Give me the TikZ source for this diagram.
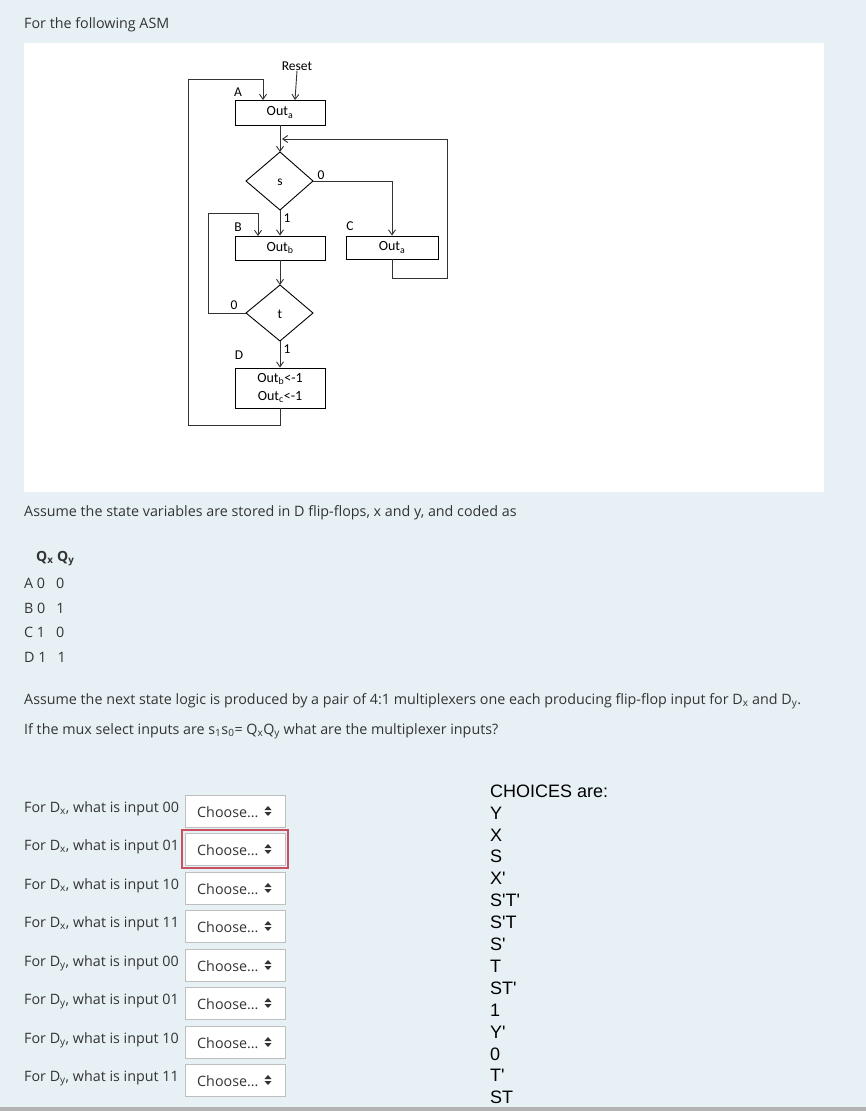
\documentclass[tikz,border=0pt]{standalone}
\usepackage{fontspec}
\setmainfont{Open Sans}
\newfontfamily\calfnt{Carlito}
\newfontfamily\arifnt{Liberation Sans}
\usetikzlibrary{arrows.meta}
\definecolor{bg}{HTML}{E7F1F5}
\definecolor{txt}{HTML}{333333}
\definecolor{redb}{HTML}{C9505E}
\begin{document}
\begin{tikzpicture}[x=1pt,y=-1pt,
  box/.style={draw,line width=0.9pt,minimum width=90pt,minimum height=25pt,inner sep=0pt,font=\calfnt\fontsize{14}{16}\selectfont},
  dia/.style={draw,line width=0.9pt},
  ln/.style={line width=0.9pt,draw=black!80},
  ar/.style={ln,-{Straight Barb[length=5pt,width=7pt]}},
  lab/.style={font=\calfnt\fontsize{13.5}{15}\selectfont,inner sep=0pt},
  body/.style={font=\fontsize{14.3}{17}\selectfont,text=txt,anchor=west,inner sep=0pt},
  sel/.style={draw=black!25,fill=white,minimum width=100pt,minimum height=32pt,inner sep=0pt,font=\fontsize{14}{17}\selectfont,text=txt},
  ch/.style={font=\arifnt\fontsize{18}{20}\selectfont,anchor=west,inner sep=0pt}]
\useasboundingbox (0,0) rectangle (866,1111);
\fill[bg] (0,0) rectangle (866,1111);
\fill[black!30] (0,1107) rectangle (866,1111);
\fill[white] (24,43) rectangle (824,492);
\node[body] (t1) at (24,25) {For the following ASM};
% ASM
\node[box] (A) at (280,112.5) {Out\textsubscript{a}};
\node[lab] (Rs) at (297,66) {Reset};
\node[lab] at (238,92) {A};
\coordinate (sT) at (280,152); \coordinate (sB) at (280,210);
\coordinate (sL) at (246,181); \coordinate (sR) at (313,181);
\draw[dia] (sT)--(sR)--(sB)--(sL)--cycle;
\node[lab] (s) at (280,182) {s};
\node[box,minimum height=24pt] (B) at (280,248) {Out\textsubscript{b}};
\node[lab] at (238,227) {B};
\node[box,minimum width=92pt,minimum height=23pt] (C) at (392,247.5) {Out\textsubscript{a}};
\node[lab] at (350,226) {C};
\coordinate (tT) at (280,285); \coordinate (tB) at (280,341);
\coordinate (tL) at (246,313); \coordinate (tR) at (313,313);
\draw[dia] (tT)--(tR)--(tB)--(tL)--cycle;
\node[lab] (t) at (280,314) {t};
\node[box,minimum height=40pt,align=center,font=\calfnt\fontsize{14}{18}\selectfont] (D) at (280,388) {Out\textsubscript{b}<-1\\Out\textsubscript{c}<-1};
\node[lab] at (239,355) {D};
\node[lab] at (321,175) {0};
\node[lab] at (287,218) {1};
\node[lab] at (234,305) {0};
\node[lab] at (287,349) {1};
\draw[ar] (Rs.south) -- (295,100);
\draw[ar] (D.south) -- (280,425) -- (188,425) -- (188,79) -- (263,79) -- (263,100);
\draw[ar] (A.south) -- (sT);
\draw[ar] (C.south) -- (392,278) -- (447,278) -- (447,139) -- (282,139);
\draw[ar] (sR) -- (392,181) -- (C.north);
\draw[ar] (sB) -- (B.north);
\draw[ar] (B.south) -- (tT);
\draw[ar] (tL) -- (208,313) -- (208,213) -- (258,213) -- (258,236);
\draw[ar] (tB) -- (D.north);
% text
\node[body] at (24,513) {Assume the state variables are stored in D flip-flops, x and y, and coded as};
\node[body,font=\bfseries\fontsize{14}{17}\selectfont] at (36,559) {Q\textsubscript{x} Q\textsubscript{y}};
\node[body] at (24,583) {A 0\hspace{11pt}0};
\node[body] at (24,608) {B 0\hspace{11pt}1};
\node[body] at (24,632) {C 1\hspace{11pt}0};
\node[body] at (24,657) {D 1\hspace{11pt}1};
\node[body] at (24,701) {Assume the next state logic is produced by a pair of 4:1 multiplexers one each producing flip-flop input for D\textsubscript{x} and D\textsubscript{y}.};
\node[body] at (24,731) {If the mux select inputs are s\textsubscript{1}s\textsubscript{0}= Q\textsubscript{x}Q\textsubscript{y} what are the multiplexer inputs?};
% selects
\foreach \yy/\v/\n [count=\i] in {811/x/00,849/x/01,888/x/10,926/x/11,965/y/00,1003/y/01,1042/y/10,1080/y/11}{
  \node[body] (q\i) at (24,\yy-2) {For D\textsubscript{\v}, what is input \n};
  \node[sel] (c\i) at (235,\yy) {};
}
\draw[redb,line width=2.5pt] (182,830) rectangle (288,868);
\foreach \yy [count=\i] in {811,849,888,926,965,1003,1042,1080}{
  \node[body] at (197,\yy+1) {Choose...};
  \fill[txt] (268,\yy-5) -- (271.5,\yy-1) -- (264.5,\yy-1) -- cycle;
  \fill[txt] (268,\yy+5) -- (271.5,\yy+1) -- (264.5,\yy+1) -- cycle;
}
\node[ch] (chh) at (490,791) {CHOICES are:};
\foreach \s [count=\i] in {Y,X,S,X',S'T',S'T,S',T,ST',1,Y',0,T',ST}{
  \node[ch] at (490,791+21.9*\i) {\s};
}
\end{tikzpicture}
\end{document}
